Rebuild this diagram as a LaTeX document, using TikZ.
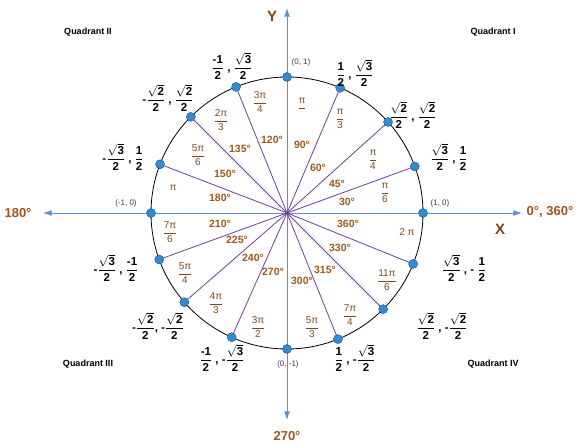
\documentclass[tikz,border=0pt]{standalone}
\usepackage{fontspec}
\setmainfont{Liberation Sans}
\usetikzlibrary{calc,arrows.meta}
\definecolor{axisblue}{HTML}{5B8FD0}
\definecolor{raypurple}{HTML}{6A3FA0}
\definecolor{ptblue}{HTML}{2E8BD8}
\definecolor{degbrown}{HTML}{A0581A}
\definecolor{radbrown}{HTML}{7A4A22}
\definecolor{xyslate}{HTML}{3A3A60}
\tikzset{%
  axis/.style   = {draw=axisblue, thick, -{Latex[length=3mm,width=2mm]}},
  ray/.style    = {draw=raypurple, thick},
  pt/.style     = {circle, fill=ptblue, draw=ptblue!60!black, inner sep=0pt,
    minimum width=9pt, minimum height=8pt},
  coord/.style  = {font=\bfseries\fontsize{11.5}{12}\selectfont, inner sep=0pt}, % point values
  xy/.style     = {font=\fontsize{8}{9}\selectfont, text=xyslate, inner sep=0pt},
  deg/.style    = {font=\bfseries\fontsize{10.5}{12}\selectfont, text=degbrown, inner sep=0pt},
  rad/.style    = {font=\fontsize{10}{11}\selectfont, text=radbrown, inner sep=0pt},
  quad/.style   = {font=\bfseries\fontsize{9}{10}\selectfont, inner sep=0pt},
  big/.style    = {font=\bfseries\fontsize{13}{14}\selectfont, text=degbrown, inner sep=0pt}
}
\newcommand{\fr}[2]{$\displaystyle\frac{\hbox{#1}}{\hbox{#2}}$}
\newcommand{\rt}[1]{$\sqrt{\hbox{#1}}$}
\begin{document}
\begin{tikzpicture}[x=1pt, y=-1pt]
\useasboundingbox (0,0) rectangle (578,446);
\coordinate (O) at (287,213);
% Axes
\coordinate (xl) at (43,213);
\coordinate (xr) at (522,213);
\coordinate (yt) at (287,8);
\coordinate (yb) at (287,420);
\draw[axis] (O) -- (xl);
\draw[axis] (O) -- (xr);
\draw[axis] (O) -- (yt);
\draw[axis] (O) -- (yb);
% Unit circle
\draw[thick] (O) circle (136);
% Rays and points
\foreach \a in {20,42,67,112,135,159,200,221,246,292,315,338}
  \draw[ray] (O) -- ($(O)+(-\a:136)$);
\foreach \a in {0,20,42,67,90,112,135,159,180,200,221,246,270,292,315,338}
  \node[pt] (p\a) at ($(O)+(-\a:136)$) {};
% Axis labels
\draw
  node at (272,16) [big, text=degbrown!80!black, font=\bfseries\fontsize{15}{16}\selectfont] (ylab) {Y}
  node at (500,229) [big, text=degbrown!80!black, font=\bfseries\fontsize{15}{16}\selectfont] (xlab) {X}
  node at (18,213) [big] (d180) {180°}
  node at (550,212) [big] (d0) {0°, 360°}
  node at (287,436) [big] (d270) {270°};
% Quadrants
\draw
  node at (88,32) [quad] (q2) {Quadrant II}
  node at (493,32) [quad] (q1) {Quadrant I}
  node at (88,364) [quad] (q3) {Quadrant III}
  node at (493,364) [quad] (q4) {Quadrant IV};
% Point values
\draw
  node at (301,62) [xy] (c90) {(0, 1)}
  node at (440,203) [xy] (c0) {(1, 0)}
  node at (288,364) [xy] (c270) {(0, -1)}
  node at (126,203) [xy] (c180) {(-1, 0)}
  node at (355,73) [coord] (c67) {\fr{1}{2} , \fr{\rt{3}}{2}}
  node at (413,115) [coord] (c42) {\fr{\rt{2}}{2} , \fr{\rt{2}}{2}}
  node at (449,157) [coord] (c20) {\fr{\rt{3}}{2} , \fr{1}{2}}
  node at (464,268) [coord] (c338) {\fr{\rt{3}}{2} , - \fr{1}{2}}
  node at (442,326) [coord] (c315) {\fr{\rt{2}}{2} , -\fr{\rt{2}}{2}}
  node at (355,358) [coord] (c292) {\fr{1}{2} , -\fr{\rt{3}}{2}}
  node at (222,358) [coord] (c246) {\fr{-1}{2} , -\fr{\rt{3}}{2}}
  node at (158,326) [coord] (c221) {-\fr{\rt{2}}{2}, -\fr{\rt{2}}{2}}
  node at (116,268) [coord] (c200) {-\fr{\rt{3}}{2} , \fr{-1}{2}}
  node at (123,157) [coord] (c159) {-\fr{\rt{3}}{2} , \fr{1}{2}}
  node at (168,98) [coord] (c135) {-\fr{\rt{2}}{2} , \fr{\rt{2}}{2}}
  node at (232,66) [coord] (c112) {\fr{-1}{2} , \fr{\rt{3}}{2}};
% Radians
\draw
  node at (385,193) [rad] (r20) {\fr{π}{6}}
  node at (373,160) [rad] (r42) {\fr{π}{4}}
  node at (340,119) [rad] (r67) {\fr{π}{3}}
  node at (302,108) [rad] (r90) {\fr{π}{\phantom{2}}}
  node at (260,102) [rad] (r112) {\fr{3π}{4}}
  node at (221,120) [rad] (r135) {\fr{2π}{3}}
  node at (198,155) [rad] (r159) {\fr{5π}{6}}
  node at (173,188) [rad] (r180) {π}
  node at (170,232) [rad] (r200) {\fr{7π}{6}}
  node at (185,273) [rad] (r221) {\fr{5π}{4}}
  node at (216,303) [rad] (r246) {\fr{4π}{3}}
  node at (258,327) [rad] (r270) {\fr{3π}{2}}
  node at (312,327) [rad] (r292) {\fr{5π}{3}}
  node at (350,315) [rad] (r315) {\fr{7π}{4}}
  node at (387,280) [rad] (r338) {\fr{11π}{6}}
  node at (407,232) [rad] (r360) {2 π};
% Degrees
\draw
  node at (347,202) [deg] (g30) {30°}
  node at (337,184) [deg] (g45) {45°}
  node at (318,168) [deg] (g60) {60°}
  node at (302,145) [deg] (g90) {90°}
  node at (272,140) [deg] (g120) {120°}
  node at (240,149) [deg] (g135) {135°}
  node at (225,174) [deg] (g150) {150°}
  node at (220,198) [deg] (g180) {180°}
  node at (220,224) [deg] (g210) {210°}
  node at (237,240) [deg] (g225) {225°}
  node at (253,258) [deg] (g240) {240°}
  node at (273,272) [deg] (g270) {270°}
  node at (302,281) [deg] (g300) {300°}
  node at (325,270) [deg] (g315) {315°}
  node at (340,248) [deg] (g330) {330°}
  node at (348,224) [deg] (g360) {360°};
\end{tikzpicture}
\end{document}
